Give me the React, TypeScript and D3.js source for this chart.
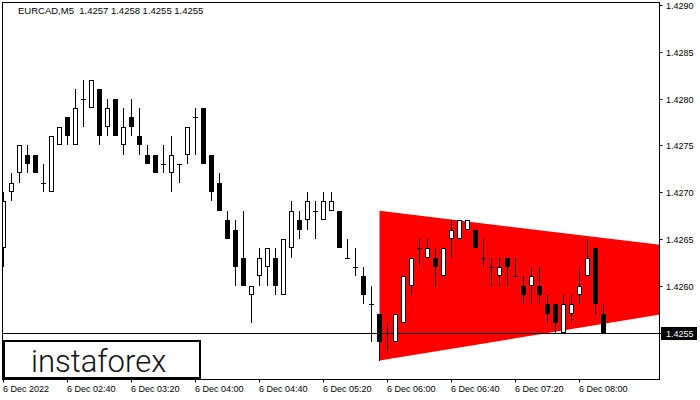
import * as d3 from "d3";

// EURCAD M5, 6 Dec 2022, one bar every 5 minutes from 02:00
const opens = [
  1.4264, 1.427, 1.4272, 1.4274, 1.4274, 1.4271, 1.427, 1.4275, 1.4278, 1.4275,
  1.428, 1.4279, 1.4281, 1.4277, 1.428, 1.4275, 1.4278, 1.4276, 1.4274, 1.4274,
  1.4273, 1.4272, 1.4273, 1.4274, 1.4278, 1.4279, 1.4274, 1.4271, 1.4267, 1.4266,
  1.4263, 1.4259, 1.4261, 1.4262, 1.4263, 1.4259, 1.4264, 1.4267, 1.4267, 1.4268,
  1.4267, 1.4268, 1.4268, 1.4263, 1.4262, 1.4261, 1.4258, 1.4257, 1.4255, 1.4254,
  1.4256, 1.426, 1.4264, 1.4263, 1.4263, 1.4261, 1.4265, 1.4265, 1.4266, 1.4266,
  1.4263, 1.4262, 1.4261, 1.4263, 1.4261, 1.426, 1.426, 1.426, 1.4258, 1.4258,
  1.4255, 1.4257, 1.4259, 1.4261, 1.4264, 1.4257,
];
const highs = [
  1.427, 1.4272, 1.4275, 1.4275, 1.4274, 1.4273, 1.4276, 1.4277, 1.4278, 1.4281,
  1.4282, 1.4282, 1.4281, 1.428, 1.428, 1.4279, 1.428, 1.4279, 1.4275, 1.4274,
  1.4275, 1.4276, 1.4273, 1.4277, 1.4279, 1.4279, 1.4274, 1.4272, 1.4268, 1.4267,
  1.4268, 1.426, 1.4264, 1.4264, 1.4264, 1.4265, 1.4269, 1.4268, 1.427, 1.4269,
  1.427, 1.427, 1.4268, 1.4265, 1.4264, 1.4262, 1.426, 1.4257, 1.4256, 1.4257,
  1.4261, 1.4263, 1.4265, 1.4265, 1.4264, 1.4264, 1.4267, 1.4267, 1.4267, 1.4266,
  1.4265, 1.4263, 1.4263, 1.4263, 1.4263, 1.4261, 1.4262, 1.4262, 1.4259, 1.4258,
  1.4259, 1.4259, 1.4262, 1.4265, 1.4264, 1.4258,
];
const lows = [
  1.4262, 1.4269, 1.4271, 1.4272, 1.4272, 1.427, 1.427, 1.4275, 1.4275, 1.4275,
  1.4277, 1.4279, 1.4275, 1.4276, 1.4276, 1.4274, 1.4276, 1.4274, 1.4273, 1.4272,
  1.4272, 1.427, 1.4271, 1.4273, 1.4274, 1.4273, 1.4269, 1.4268, 1.4265, 1.426,
  1.426, 1.4256, 1.426, 1.426, 1.4259, 1.4259, 1.4263, 1.4265, 1.4266, 1.4265,
  1.4267, 1.4268, 1.4264, 1.4263, 1.4261, 1.4258, 1.4254, 1.4252, 1.4253, 1.4254,
  1.4256, 1.4259, 1.4262, 1.4263, 1.426, 1.4261, 1.4263, 1.4265, 1.4266, 1.4264,
  1.4262, 1.426, 1.426, 1.426, 1.4261, 1.4258, 1.4258, 1.4258, 1.4256, 1.4255,
  1.4255, 1.4256, 1.4258, 1.4261, 1.4257, 1.4255,
];
const closes = [
  1.4269, 1.4271, 1.4275, 1.4273, 1.4272, 1.4271, 1.4276, 1.4277, 1.4276, 1.4279,
  1.428, 1.4282, 1.4276, 1.4279, 1.4276, 1.4277, 1.4277, 1.4275, 1.4273, 1.4272,
  1.4273, 1.4274, 1.4273, 1.4277, 1.4278, 1.4273, 1.427, 1.4268, 1.4265, 1.4262,
  1.426, 1.426, 1.4263, 1.4264, 1.426, 1.4265, 1.4268, 1.4266, 1.4269, 1.4268,
  1.4269, 1.4269, 1.4264, 1.4263, 1.4262, 1.4259, 1.4258, 1.4254, 1.4255, 1.4257,
  1.4261, 1.4263, 1.4264, 1.4264, 1.4262, 1.4264, 1.4266, 1.4267, 1.4267, 1.4264,
  1.4263, 1.4262, 1.4262, 1.4262, 1.4261, 1.4259, 1.4261, 1.4259, 1.4257, 1.4256,
  1.4258, 1.4258, 1.426, 1.4263, 1.4258, 1.4255,
];

const timeTickIndex = [0, 8, 16, 24, 32, 40, 48, 56, 64, 72];
const timeTickLabels = [
  "6 Dec 2022", "6 Dec 02:40", "6 Dec 03:20", "6 Dec 04:00", "6 Dec 04:40",
  "6 Dec 05:20", "6 Dec 06:00", "6 Dec 06:40", "6 Dec 07:20", "6 Dec 08:00",
];
const priceTicks = [1.429, 1.4285, 1.428, 1.4275, 1.427, 1.4265, 1.426, 1.4255];

// symmetric triangle pattern: left top, left bottom, apex (bar index, price)
const triangleIndex = [47, 47, 112.6];
const trianglePrice = [1.4268, 1.4252, 1.42612];

const bidPrice = 1.4255;
const title = "EURCAD,M5  1.4257 1.4258 1.4255 1.4255";

const W = 700;
const H = 400;
const plot = { left: 2.5, top: 2.5, right: 659.5, bottom: 379.5 };
const font = "'Liberation Sans', Arial, sans-serif";

export default function App() {
  const x = d3.scaleLinear().domain([0, 82]).range([3.5, 659.5]);
  const y = d3.scaleLinear().domain([1.425, 1.429]).range([379.3, 4.9]);
  const ry = (v: number) => Math.round(y(v));

  const trianglePts = triangleIndex.map((t, i) => [x(t), y(trianglePrice[i])] as [number, number]);
  const triPath = d3.line()(trianglePts) + "Z";
  const bidY = ry(bidPrice) + 0.5;

  return (
    <svg
      width={W}
      height={H}
      style={{ position: "fixed", left: 0, top: 0, background: "#fff" }}
      fontFamily={font}
    >
      <defs>
        <clipPath id="plotClip">
          <rect x={plot.left} y={plot.top} width={plot.right - plot.left} height={plot.bottom - plot.top} />
        </clipPath>
      </defs>
      <rect width={W} height={H} fill="#fff" />

      <g clipPath="url(#plotClip)">
        <path d={triPath} fill="#ff0000" />
        <line x1={plot.left} x2={plot.right} y1={bidY} y2={bidY} stroke="#000" />

        {opens.map((o, i) => {
          const c = closes[i];
          const cx = x(i);
          const top = ry(Math.max(o, c));
          const bot = ry(Math.min(o, c));
          return (
            <g key={i}>
              <line x1={cx} x2={cx} y1={ry(highs[i])} y2={ry(lows[i])} stroke="#000" />
              {o === c ? (
                <line x1={cx - 2.5} x2={cx + 2.5} y1={top + 0.5} y2={top + 0.5} stroke="#000" />
              ) : c > o ? (
                <rect x={cx - 2} y={top + 0.5} width={4} height={bot - top - 1} fill="#fff" stroke="#000" />
              ) : (
                <rect x={cx - 2.5} y={top} width={5} height={bot - top} fill="#000" />
              )}
            </g>
          );
        })}
      </g>

      <rect
        x={plot.left}
        y={plot.top}
        width={plot.right - plot.left}
        height={plot.bottom - plot.top}
        fill="none"
        stroke="#000"
      />

      {/* price axis */}
      {priceTicks.map((p) => (
        <g key={p}>
          <line x1={plot.right} x2={plot.right + 3} y1={ry(p) + 0.5} y2={ry(p) + 0.5} stroke="#000" />
          <text x={666} y={ry(p) + 0.5} dy="0.35em" fontSize={9} fill="#000">
            {p.toFixed(4)}
          </text>
        </g>
      ))}
      <rect x={661} y={bidY - 6.5} width={36} height={13} fill="#000" />
      <text x={666} y={bidY} dy="0.35em" fontSize={9} fill="#fff">
        {bidPrice.toFixed(4)}
      </text>

      {/* time axis */}
      {timeTickIndex.map((t, i) => (
        <g key={t}>
          <line x1={x(t)} x2={x(t)} y1={plot.bottom} y2={plot.bottom + 3} stroke="#000" />
          <text x={x(t) - 0.5} y={392} fontSize={9} fill="#000">
            {timeTickLabels[i]}
          </text>
        </g>
      ))}

      <text x={18} y={14} fontSize={9.5} fill="#000" style={{ whiteSpace: "pre" }}>
        {title}
      </text>

      {/* watermark logo */}
      <rect x={4} y={341} width={196} height={37} fill="#fff" stroke="#000" strokeWidth={2} />
      <text x={31} y={371.5} fontSize={31} fontFamily="Roboto, 'DejaVu Sans', sans-serif" fontWeight={300} fill="#111">
        instaforex
      </text>
    </svg>
  );
}
